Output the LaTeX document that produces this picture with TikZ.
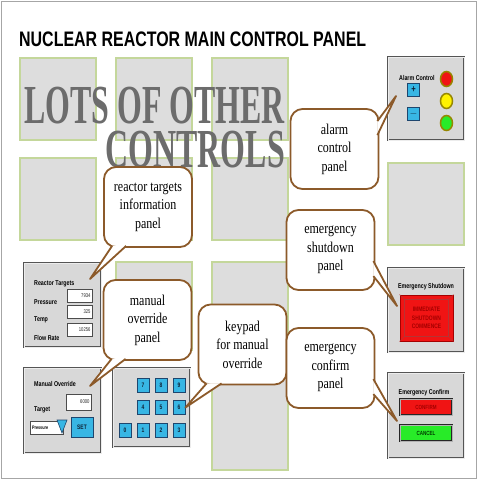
\documentclass[tikz,border=0pt]{standalone}
\usepackage{fontspec}
\usepackage{xcolor}
\usetikzlibrary{calc}

\setmainfont{Liberation Serif}
\newfontfamily\titlefont[FakeStretch=0.76]{Liberation Sans}
\newfontfamily\callfont[FakeStretch=0.8]{Liberation Serif}
\newfontfamily\bigfont[FakeStretch=0.58]{Liberation Serif}

\definecolor{boxgray}{RGB}{221,221,221}
\definecolor{boxgreen}{RGB}{196,215,155}
\definecolor{panelgray}{RGB}{216,216,216}
\definecolor{panelrim}{RGB}{85,85,85}
\definecolor{keyblue}{RGB}{56,182,228}
\definecolor{keyrim}{RGB}{30,70,110}
\definecolor{calloutbrown}{RGB}{140,90,42}
\definecolor{bigtextgray}{RGB}{108,108,108}
\definecolor{ringolive}{RGB}{150,135,0}
\definecolor{alarmred}{RGB}{240,20,20}
\definecolor{darkred}{RGB}{165,0,0}
\definecolor{okgreen}{RGB}{40,235,40}

\newcommand{\calltail}[3]{\draw[tailline] (#1) -- (#3) -- (#2);}

\begin{document}
\begin{tikzpicture}[x=1pt, y=-1pt,
    greybox/.style={fill=boxgray, draw=boxgreen, line width=2pt},
    ctrlpanel/.style={fill=panelgray, draw=panelrim, line width=0.9pt, double=white!85!gray, double distance=0.9pt},
    panellabel/.style={font=\titlefont\bfseries\fontsize{7}{8.5}\selectfont, inner sep=0pt},
    valbox/.style={draw=gray!60!black, fill=white, line width=0.6pt, text width=21pt, align=right, inner sep=2pt, minimum height=13pt, font=\titlefont\fontsize{5.5}{6}\selectfont, text=gray!30!black},
    padkey/.style={fill=keyblue, draw=keyrim, line width=0.8pt, minimum width=12pt, minimum height=14pt, inner sep=0pt, font=\titlefont\bfseries\fontsize{6.5}{7}\selectfont, text=keyrim!50!black},
    bigbutton/.style={draw=gray!30!black, line width=0.6pt, double=gray!60, double distance=0.7pt, minimum width=52pt, minimum height=16pt, inner sep=0pt, font=\titlefont\bfseries\fontsize{6}{7}\selectfont},
    callout/.style={draw=calloutbrown, fill=white, line width=1.8pt, rounded corners=12pt, minimum width=88pt, minimum height=80pt, align=center, inner sep=0pt, font=\callfont\fontsize{15}{18.5}\selectfont},
    tailline/.style={draw=calloutbrown, fill=white, line width=1.8pt, line join=round}
]
    \useasboundingbox (0,0) rectangle (480,480);
    \fill[white] (0,0) rectangle (480,480);
    \draw[gray!70, line width=0.8pt] (1,1) rectangle (476,478);

    \node[font=\titlefont\bfseries\fontsize{21}{24}\selectfont, anchor=base west, inner sep=0pt] (title) at (19,46) {NUCLEAR REACTOR MAIN CONTROL PANEL};

    \foreach \x in {20,116,212}{
        \draw[greybox] (\x,58) rectangle ++(76,82);
        \draw[greybox] (\x,158) rectangle ++(76,82);
    }
    \draw[greybox] (388,163) rectangle (464,245);
    \draw[greybox] (116,262) rectangle (192,350);
    \draw[greybox] (212,262) rectangle (288,470);

    \node[font=\bigfont\bfseries\fontsize{55}{44}\selectfont, text=bigtextgray, align=right, anchor=north east, inner sep=0pt] (others) at (285,87) {LOTS OF OTHER\\CONTROLS};

    % alarm control
    \draw[ctrlpanel] (388,57) rectangle (464,140);
    \node[panellabel, anchor=base west] (alarmlabel) at (399,80) {Alarm Control};
    \node[padkey, minimum height=13pt, font=\titlefont\bfseries\fontsize{10}{10}\selectfont] (plus) at (413.5,90) {+};
    \node[padkey, minimum height=13pt, font=\fontsize{10}{10}\selectfont] (minus) at (413.5,114) {$-$};
    \draw[fill=alarmred, draw=ringolive, line width=1.5pt] (446.5,79) ellipse [x radius=6pt, y radius=7.5pt];
    \draw[fill=yellow, draw=ringolive, line width=1.5pt] (446.5,101) ellipse [x radius=6pt, y radius=7.5pt];
    \draw[fill=okgreen, draw=ringolive, line width=1.5pt] (446.5,123) ellipse [x radius=6pt, y radius=7.5pt];
    \coordinate (alarmtip) at (396,96);

    % reactor targets
    \draw[ctrlpanel] (24,263) rectangle (101,347);
    \node[panellabel, anchor=base west] (targetslabel) at (34,285) {Reactor Targets};
    \node[panellabel, anchor=base west] (presslabel) at (34,304) {Pressure};
    \node[panellabel, anchor=base west] (templabel) at (34,321) {Temp};
    \node[panellabel, anchor=base west] (flowlabel) at (34,340) {Flow Rate};
    \node[valbox] (pressval) at (80,296) {7934};
    \node[valbox] (tempval) at (80,311.5) {325};
    \node[valbox] (flowval) at (80,330) {10256};
    \coordinate (targetstip) at (90,279);

    % manual override
    \draw[ctrlpanel] (24,368) rectangle (101,453);
    \node[panellabel, anchor=base west] (overridelabel) at (34,386) {Manual Override};
    \node[panellabel, anchor=base west] (targetlabel) at (34,411) {Target};
    \node[valbox, minimum height=16pt] (targetval) at (79,402) {6000};
    \node[draw=gray!60!black, fill=white, line width=0.6pt, text width=29pt, inner sep=2pt, minimum height=13pt, font=\titlefont\bfseries\fontsize{5}{6}\selectfont] (dropdown) at (46.5,427.5) {Pressure};
    \draw[fill=keyblue, draw=keyrim, line width=0.6pt] (57,420) -- (67,420) -- (62,433) -- cycle;
    \node[padkey, minimum width=22pt, minimum height=20pt, line width=1pt, font=\titlefont\bfseries\fontsize{6.5}{7}\selectfont] (setbtn) at (82,427) {SET};
    \coordinate (overridetip) at (90,386);

    % keypad
    \draw[ctrlpanel] (113,368) rectangle (190,447);
    \foreach \d/\x/\y in {7/143/385, 8/161/385, 9/179/385, 4/143/407.5, 5/161/407.5, 6/179/407.5, 0/125/430.5, 1/143/430.5, 2/161/430.5, 3/179/430.5}{
        \node[padkey] (k\d) at (\x,\y) {\d};
    }

    % emergency shutdown
    \draw[ctrlpanel] (388,268) rectangle (464,352);
    \node[panellabel, anchor=base] (shutlabel) at (426,288) {Emergency Shutdown};
    \node[fill=alarmred, draw=darkred, line width=1pt, minimum width=53pt, minimum height=46pt, align=center, inner sep=0pt, text=darkred, font=\titlefont\bfseries\fontsize{6.5}{8.5}\selectfont] (shutbtn) at (426.5,318) {IMMEDIATE\\SHUTDOWN\\COMMENCE};
    \draw[darkred!80, line width=0.6pt] ($(shutbtn.north west)+(5,5)$) rectangle ($(shutbtn.south east)+(-5,-5)$);
    \draw[darkred!80, line width=0.6pt] (shutbtn.north west) -- ++(5,5) (shutbtn.north east) -- ++(-5,5) (shutbtn.south west) -- ++(5,-5) (shutbtn.south east) -- ++(-5,-5);
    \coordinate (shuttip) at (397,306);

    % emergency confirm
    \draw[ctrlpanel] (388,373) rectangle (464,458);
    \node[panellabel, anchor=base] (confirmlabel) at (424,394) {Emergency Confirm};
    \node[bigbutton, fill=alarmred, text=darkred] (confirmbtn) at (426,407) {CONFIRM};
    \node[bigbutton, fill=okgreen, text=green!25!black] (cancelbtn) at (426,433) {CANCEL};
    \coordinate (confirmtip) at (397,421);

    \node[callout] (alarmcall) at (334.5,149) {alarm\\control\\panel};
    \node[callout] (targetscall) at (148,207) {reactor targets\\information\\panel};
    \node[callout] (overridecall) at (147.5,320) {manual\\override\\panel};
    \node[callout] (keypadcall) at (242.5,344.5) {keypad\\for manual\\override};
    \node[callout] (shutcall) at (330.5,250) {emergency\\shutdown\\panel};
    \node[callout] (confirmcall) at (330.5,368) {emergency\\confirm\\panel};

    \calltail{$(alarmcall.north east)+(-2,13)$}{$(alarmcall.north east)+(-2,27)$}{alarmtip}
    \calltail{$(targetscall.south west)+(9,-2)$}{$(targetscall.south west)+(23,-2)$}{targetstip}
    \calltail{$(overridecall.south west)+(9,-2)$}{$(overridecall.south west)+(23,-2)$}{overridetip}
    \calltail{$(keypadcall.south west)+(9,-2)$}{$(keypadcall.south west)+(24,-2)$}{k6.east}
    \calltail{$(shutcall.north east)+(-2,52)$}{$(shutcall.north east)+(-2,67)$}{shuttip}
    \calltail{$(confirmcall.north east)+(-2,52)$}{$(confirmcall.north east)+(-2,67)$}{confirmtip}
\end{tikzpicture}
\end{document}
